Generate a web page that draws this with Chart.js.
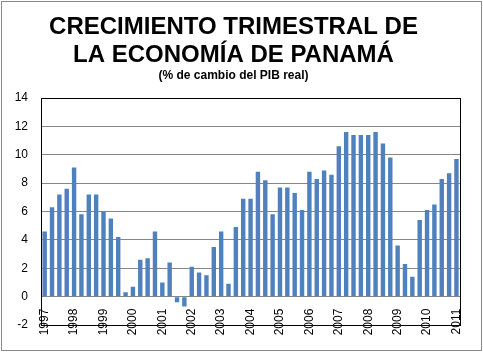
<!DOCTYPE html>
<html>
<head>
<meta charset="utf-8">
<script src="https://cdn.jsdelivr.net/npm/chart.js@4.4.1/dist/chart.umd.min.js"></script>
<style>
html,body{margin:0;padding:0;background:#fff;}
#wrap{width:483px;height:352px;position:relative;}
</style>
</head>
<body>
<div id="wrap"><canvas id="c" width="483" height="352"></canvas></div>
<script>
// Data
const years = ['1997','1998','1999','2000','2001','2002','2003','2004','2005','2006','2007','2008','2009','2010','2011'];
const quarters = ['T1','T2','T3','T4'];
const growth = [
  4.6, 6.3, 7.2, 7.6,
  9.1, 5.8, 7.2, 7.2,
  6.0, 5.5, 4.2, 0.3,
  0.7, 2.6, 2.7, 4.6,
  1.0, 2.4, -0.4, -0.7,
  2.1, 1.7, 1.5, 3.5,
  4.6, 0.9, 4.9, 6.9,
  6.9, 8.8, 8.2, 5.8,
  7.7, 7.7, 7.3, 6.1,
  8.8, 8.3, 8.9, 8.6,
  10.6, 11.6, 11.4, 11.4,
  11.4, 11.6, 10.8, 9.8,
  3.6, 2.3, 1.4, 5.4,
  6.1, 6.5, 8.3, 8.7,
  9.7
];
const yTicks = [-2, 0, 2, 4, 6, 8, 10, 12, 14];
const titleLines = ['CRECIMIENTO TRIMESTRAL DE', 'LA ECONOMÍA DE PANAMÁ'];
const subtitleText = '(% de cambio del PIB real)';

const categories = [];
years.forEach(y => quarters.forEach(q => categories.push(y + ' ' + q)));
categories.length = growth.length;

const FONT = '"Liberation Sans", Arial, sans-serif';

const framePlugin = {
  id: 'frame',
  beforeDraw(chart) {
    const ctx = chart.ctx;
    ctx.save();
    ctx.fillStyle = '#fff';
    ctx.fillRect(0, 0, chart.width, chart.height);
    ctx.strokeStyle = '#8a8a8a';
    ctx.lineWidth = 1;
    ctx.strokeRect(1.5, 1.5, chart.width - 3, chart.height - 3);
    ctx.restore();
  },
  afterDraw(chart) {
    const a = chart.chartArea;
    const ctx = chart.ctx;
    ctx.save();
    ctx.strokeStyle = '#000';
    ctx.lineWidth = 1;
    ctx.strokeRect(Math.round(a.left) + 0.5, Math.round(a.top) + 0.5, Math.round(a.right - a.left), Math.round(a.bottom - a.top));
    ctx.restore();
  }
};

new Chart(document.getElementById('c'), {
  type: 'bar',
  data: {
    labels: categories,
    datasets: [{
      data: growth,
      backgroundColor: '#4F81BD',
      borderWidth: 0,
      barPercentage: 0.6,
      categoryPercentage: 1.0
    }]
  },
  options: {
    responsive: false,
    animation: false,
    layout: { padding: { left: 0, right: 16, top: 0, bottom: 27 } },
    plugins: {
      legend: { display: false },
      tooltip: { enabled: false },
      title: {
        display: true,
        text: titleLines,
        color: '#000',
        font: { family: FONT, size: 24, weight: 'bold', lineHeight: 1.18 },
        padding: { top: 13, bottom: 0 }
      },
      subtitle: {
        display: true,
        text: subtitleText,
        color: '#000',
        font: { family: FONT, size: 12, weight: 'bold', lineHeight: 1.2 },
        padding: { top: -1, bottom: 15 }
      }
    },
    scales: {
      x: {
        type: 'category',
        position: { y: 0 },
        offset: true,
        grid: { display: false, drawTicks: false },
        border: { display: false },
        ticks: {
          autoSkip: false,
          maxRotation: 90,
          minRotation: 90,
          padding: 12,
          color: '#000',
          font: { family: FONT, size: 12 },
          callback: function(value, index) {
            const lab = categories[index];
            return lab.endsWith('T1') ? lab.slice(0, 4) : '';
          }
        }
      },
      y: {
        min: yTicks[0],
        max: yTicks[yTicks.length - 1],
        afterBuildTicks: function(scale) {
          scale.ticks = yTicks.map(v => ({ value: v }));
        },
        afterFit: function(scale) { scale.width = 41; },
        grid: { color: '#868686', drawTicks: false, lineWidth: 1 },
        border: { color: '#000' },
        ticks: {
          padding: 13,
          color: '#000',
          font: { family: FONT, size: 12 }
        }
      }
    }
  },
  plugins: [framePlugin]
});
</script>
</body>
</html>
